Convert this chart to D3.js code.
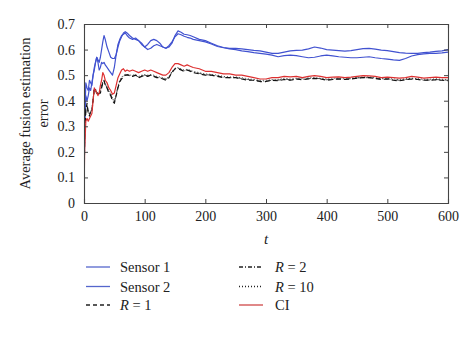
<!DOCTYPE html>
<html>
<head>
<meta charset="utf-8">
<script src="https://cdn.jsdelivr.net/npm/d3@7"></script>
<style>
html,body{margin:0;padding:0;background:#fff;}
svg{display:block;}
text{font-family:"Liberation Serif","DejaVu Serif",serif;fill:#222;}
</style>
</head>
<body>
<svg id="chart" width="474" height="339"></svg>
<script>
const tValues = [0,1,3,5,7,9,11,13,15,17,19,21,23,25,27,29,31,33,35,38,41,44,47,50,53,56,59,62,65,68,71,75,80,85,90,95,100,105,110,115,120,125,130,135,140,145,150,155,160,165,170,175,180,190,200,210,220,230,240,250,260,270,280,290,300,310,320,330,340,350,360,370,380,390,400,410,420,430,440,450,460,470,480,490,500,510,520,530,540,550,560,570,580,590,600];

const sensor1 = [0,0.30,0.47,0.45,0.44,0.48,0.47,0.46,0.50,0.53,0.55,0.57,0.56,0.55,0.57,0.60,0.63,0.655,0.64,0.61,0.59,0.57,0.565,0.565,0.58,0.61,0.635,0.65,0.665,0.67,0.665,0.655,0.645,0.64,0.635,0.625,0.61,0.60,0.605,0.615,0.62,0.615,0.61,0.605,0.61,0.625,0.655,0.673,0.668,0.66,0.658,0.655,0.65,0.64,0.635,0.625,0.615,0.608,0.605,0.605,0.603,0.60,0.597,0.595,0.59,0.585,0.585,0.59,0.595,0.597,0.598,0.603,0.61,0.606,0.60,0.598,0.596,0.594,0.596,0.60,0.604,0.605,0.602,0.598,0.596,0.592,0.588,0.586,0.585,0.585,0.588,0.59,0.593,0.595,0.60];

const sensor2 = [0,0.28,0.42,0.40,0.42,0.45,0.44,0.47,0.50,0.52,0.55,0.57,0.55,0.52,0.53,0.55,0.545,0.55,0.54,0.53,0.52,0.51,0.50,0.53,0.58,0.62,0.64,0.655,0.66,0.665,0.655,0.645,0.64,0.645,0.635,0.62,0.61,0.62,0.635,0.64,0.635,0.625,0.61,0.605,0.615,0.63,0.65,0.662,0.658,0.652,0.648,0.645,0.64,0.635,0.63,0.622,0.612,0.607,0.603,0.60,0.595,0.592,0.588,0.585,0.582,0.578,0.572,0.576,0.578,0.576,0.572,0.568,0.57,0.575,0.578,0.575,0.572,0.57,0.568,0.568,0.57,0.572,0.568,0.565,0.563,0.56,0.558,0.565,0.575,0.58,0.583,0.585,0.585,0.587,0.59];

const r1 = [0,0.25,0.36,0.39,0.35,0.34,0.36,0.36,0.40,0.45,0.44,0.43,0.42,0.43,0.43,0.45,0.47,0.48,0.46,0.45,0.43,0.42,0.40,0.39,0.42,0.45,0.475,0.485,0.495,0.50,0.50,0.50,0.495,0.50,0.49,0.495,0.50,0.495,0.50,0.495,0.49,0.49,0.485,0.48,0.49,0.51,0.525,0.525,0.52,0.515,0.52,0.515,0.51,0.505,0.50,0.50,0.495,0.49,0.49,0.49,0.485,0.48,0.48,0.475,0.475,0.48,0.478,0.483,0.48,0.485,0.482,0.485,0.487,0.485,0.48,0.483,0.485,0.483,0.485,0.488,0.49,0.49,0.487,0.483,0.485,0.48,0.478,0.482,0.485,0.483,0.48,0.48,0.482,0.48,0.478];

const r2 = [0,0.26,0.37,0.385,0.355,0.345,0.355,0.365,0.405,0.445,0.445,0.435,0.425,0.43,0.435,0.455,0.47,0.475,0.465,0.45,0.435,0.425,0.405,0.395,0.42,0.455,0.475,0.49,0.497,0.50,0.502,0.498,0.497,0.50,0.492,0.497,0.50,0.497,0.50,0.497,0.492,0.49,0.487,0.483,0.492,0.512,0.525,0.527,0.522,0.517,0.52,0.517,0.512,0.507,0.502,0.50,0.497,0.492,0.49,0.49,0.487,0.483,0.48,0.477,0.477,0.48,0.48,0.485,0.482,0.485,0.484,0.487,0.488,0.486,0.482,0.484,0.486,0.485,0.486,0.489,0.49,0.49,0.488,0.485,0.486,0.482,0.48,0.483,0.486,0.484,0.481,0.481,0.483,0.481,0.48];

const r10 = [0,0.27,0.375,0.38,0.36,0.35,0.36,0.37,0.41,0.445,0.445,0.435,0.425,0.435,0.44,0.46,0.475,0.478,0.468,0.455,0.44,0.43,0.41,0.40,0.425,0.458,0.48,0.492,0.5,0.503,0.503,0.5,0.5,0.502,0.495,0.5,0.502,0.5,0.502,0.5,0.495,0.493,0.49,0.486,0.495,0.515,0.528,0.53,0.525,0.52,0.523,0.52,0.515,0.51,0.505,0.503,0.5,0.495,0.493,0.493,0.49,0.486,0.483,0.48,0.48,0.483,0.483,0.488,0.485,0.488,0.487,0.49,0.49,0.488,0.485,0.487,0.489,0.488,0.489,0.491,0.493,0.493,0.49,0.487,0.488,0.485,0.483,0.486,0.488,0.486,0.484,0.484,0.486,0.484,0.483];

const ci = [0,0.20,0.32,0.33,0.32,0.33,0.34,0.35,0.40,0.45,0.44,0.43,0.42,0.43,0.46,0.48,0.51,0.50,0.48,0.47,0.45,0.44,0.425,0.43,0.46,0.49,0.505,0.52,0.525,0.515,0.52,0.515,0.52,0.515,0.51,0.515,0.52,0.515,0.52,0.515,0.51,0.505,0.50,0.50,0.51,0.53,0.545,0.545,0.54,0.535,0.54,0.535,0.53,0.525,0.515,0.515,0.51,0.505,0.505,0.50,0.50,0.495,0.49,0.485,0.485,0.49,0.49,0.495,0.493,0.495,0.49,0.495,0.498,0.495,0.49,0.492,0.493,0.49,0.492,0.495,0.498,0.497,0.495,0.49,0.492,0.49,0.488,0.49,0.495,0.492,0.488,0.49,0.492,0.49,0.49];

const xTicks = [0,100,200,300,400,500,600];
const yTicks = [0,0.1,0.2,0.3,0.4,0.5,0.6,0.7];
const yLabelLines = ["Average fusion estimation","error"];
const xLabel = "t";

const seriesList = [
  {name:"Sensor 1", values:sensor1, color:"#4152d0", dash:null, w:1.2},
  {name:"Sensor 2", values:sensor2, color:"#4152d0", dash:null, w:1.2},
  {name:"R10", values:r10, color:"#222", dash:"1,2", w:0.8},
  {name:"R2", values:r2, color:"#222", dash:"5,2,1,2", w:0.8},
  {name:"R1", values:r1, color:"#111", dash:"5,3", w:1.2},
  {name:"CI", values:ci, color:"#dd3030", dash:null, w:1.2}
];

const legendItems = [
  {label:["Sensor 1"], color:"#5566cc", dash:null, col:0, row:0},
  {label:["Sensor 2"], color:"#5566cc", dash:null, col:0, row:1},
  {label:["R"," = 1"], color:"#222", dash:"4,3", col:0, row:2},
  {label:["R"," = 2"], color:"#222", dash:"4,2,1,2", col:1, row:0},
  {label:["R"," = 10"], color:"#222", dash:"1,2", col:1, row:1},
  {label:["CI"], color:"#d04848", dash:null, col:1, row:2}
];

const svg = d3.select("#chart");
const m = {left:84, right:448, top:24, bottom:203};
const x = d3.scaleLinear().domain([0,600]).range([m.left, m.right]);
const y = d3.scaleLinear().domain([0,0.7]).range([m.bottom, m.top]);

svg.append("clipPath").attr("id","clip").append("rect")
  .attr("x", m.left).attr("y", m.top).attr("width", m.right-m.left).attr("height", m.bottom-m.top);

const line = d3.line().x((d,i)=>x(tValues[i])).y(d=>y(d));

const g = svg.append("g").attr("clip-path","url(#clip)");
seriesList.forEach(s=>{
  g.append("path").datum(s.values)
    .attr("d", line)
    .attr("fill","none")
    .attr("stroke", s.color)
    .attr("stroke-width", s.w)
    .attr("stroke-dasharray", s.dash)
    .attr("stroke-linejoin","round");
});

const axisColor = "#444";
const fontSize = 14;
const bottomAxis = svg.append("g").attr("transform",`translate(0,${m.bottom})`)
  .call(d3.axisBottom(x).tickValues(xTicks).tickSize(-4).tickPadding(8).tickFormat(d3.format("d")));
const topAxis = svg.append("g").attr("transform",`translate(0,${m.top})`)
  .call(d3.axisTop(x).tickValues(xTicks).tickSize(-4).tickFormat(""));
const leftAxis = svg.append("g").attr("transform",`translate(${m.left},0)`)
  .call(d3.axisLeft(y).tickValues(yTicks).tickSize(-4).tickPadding(8).tickFormat(d=> d===0 ? "0" : d3.format(".1f")(d)));
const rightAxis = svg.append("g").attr("transform",`translate(${m.right},0)`)
  .call(d3.axisRight(y).tickValues(yTicks).tickSize(-4).tickFormat(""));

[bottomAxis, topAxis, leftAxis, rightAxis].forEach(a=>{
  a.select(".domain").attr("stroke", axisColor).attr("stroke-width",1.1);
  a.selectAll(".tick line").attr("stroke", axisColor).attr("stroke-width",1);
  a.selectAll("text").attr("font-family",'"Liberation Serif","DejaVu Serif",serif').attr("font-size",fontSize).attr("fill","#222");
});
leftAxis.selectAll("text").attr("dx","-1");

svg.append("text").attr("x", 266).attr("y", 244).attr("text-anchor","middle")
  .attr("font-size",15).attr("font-style","italic").text(xLabel);

const yl = svg.append("text").attr("transform",`translate(0,${(m.top+m.bottom)/2}) rotate(-90)`)
  .attr("text-anchor","middle").attr("font-size",14.5);
yLabelLines.forEach((t,i)=>{
  yl.append("tspan").attr("x",0).attr("y", 30 + i*18).text(t);
});

const colX = [[86,110,120],[239,263,275]];
const rowY = [267,286.5,305];
legendItems.forEach(it=>{
  const [x1,x2,tx] = colX[it.col];
  const yy = rowY[it.row];
  svg.append("line").attr("x1",x1).attr("x2",x2).attr("y1",yy).attr("y2",yy)
    .attr("stroke",it.color).attr("stroke-width",1.3).attr("stroke-dasharray",it.dash);
  const t = svg.append("text").attr("x",tx).attr("y",yy).attr("dy","0.35em").attr("font-size",14.5);
  if (it.label.length===2){
    t.append("tspan").attr("font-style","italic").text(it.label[0]);
    t.append("tspan").text(it.label[1]);
  } else t.text(it.label[0]);
});
</script>
</body>
</html>
